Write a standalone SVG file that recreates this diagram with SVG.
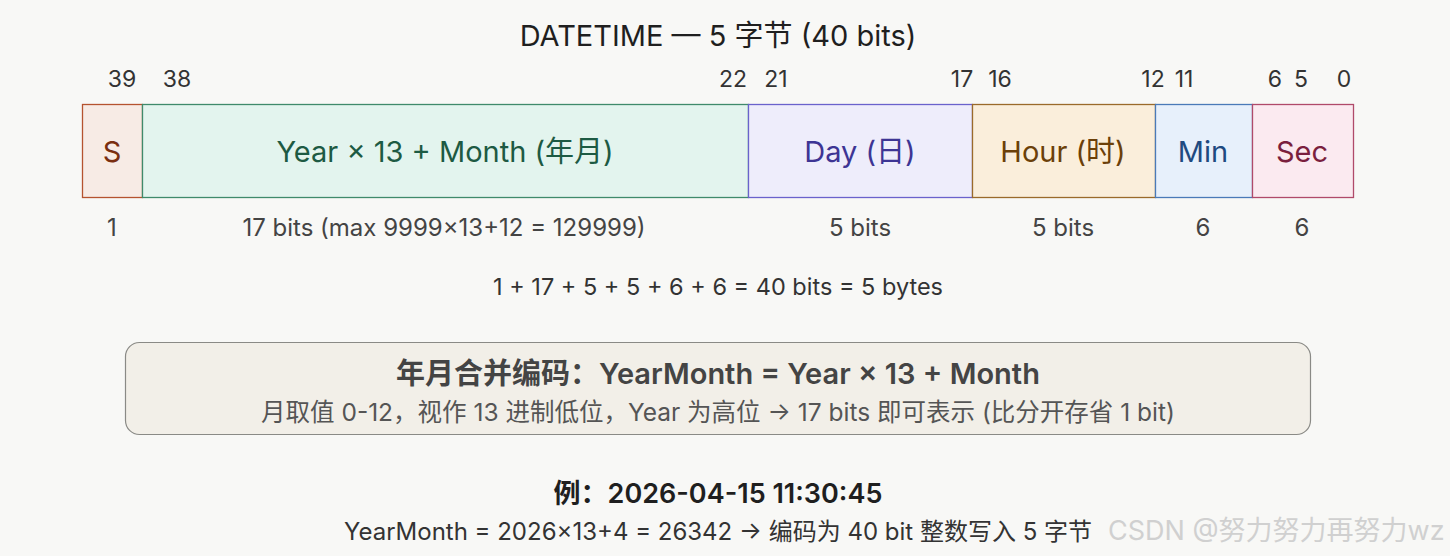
<svg xmlns="http://www.w3.org/2000/svg" width="1450" height="556" viewBox="0 0 1450 556">
<style>
text{font-family:Inter,"Noto Sans","Noto Sans CJK SC",sans-serif;text-anchor:middle}
.bit{font-size:23px;fill:#333}
.lbl{font-size:29px}
.cnt{font-size:24px;fill:#444}
.seg{stroke-width:1.3}
</style>
<rect width="1450" height="556" fill="#f8f8f6"/>
<text x="718" y="46" font-size="29" fill="#1f1f1f">DATETIME — 5 字节 (40 bits)</text>
<g id="bits" class="bit">
<text x="122" y="87">39</text><text x="177" y="87">38</text>
<text x="733" y="87">22</text><text x="776" y="87">21</text>
<text x="962" y="87">17</text><text x="1000" y="87">16</text>
<text x="1153" y="87">12</text><text x="1184" y="87">11</text>
<text x="1275" y="87">6</text><text x="1301" y="87">5</text><text x="1344" y="87">0</text>
</g>
<g id="seg-s"><rect class="seg" x="82.5" y="104.5" width="60" height="93" fill="#f7ebe5" stroke="#b5532f"/><text class="lbl" x="112" y="162" fill="#7a2e10">S</text></g>
<g id="seg-ym"><rect class="seg" x="142.5" y="104.5" width="606" height="93" fill="#e3f4ee" stroke="#3f8a6b"/><text class="lbl" x="445" y="162" fill="#1d5a43">Year × 13 + Month (年月)</text></g>
<g id="seg-day"><rect class="seg" x="748.5" y="104.5" width="224" height="93" fill="#eeedfb" stroke="#6a62cc"/><text class="lbl" x="860" y="162" fill="#3d3594">Day (日)</text></g>
<g id="seg-hour"><rect class="seg" x="972.5" y="104.5" width="183" height="93" fill="#faeedb" stroke="#9a6a2a"/><text class="lbl" x="1063" y="162" fill="#6b4009">Hour (时)</text></g>
<g id="seg-min"><rect class="seg" x="1155.5" y="104.5" width="97" height="93" fill="#e7f0fb" stroke="#4a7ab8"/><text class="lbl" x="1203" y="162" fill="#1f4a80">Min</text></g>
<g id="seg-sec"><rect class="seg" x="1252.5" y="104.5" width="101" height="93" fill="#fbeaf0" stroke="#b04a6a"/><text class="lbl" x="1302" y="162" fill="#7a1f3e">Sec</text></g>
<g id="counts" class="cnt">
<text x="112" y="236">1</text>
<text x="444" y="236">17 bits (max 9999×13+12 = 129999)</text>
<text x="860" y="236">5 bits</text>
<text x="1063" y="236">5 bits</text>
<text x="1203" y="236">6</text>
<text x="1302" y="236">6</text>
</g>
<text x="718" y="295" font-size="23.5" fill="#333">1 + 17 + 5 + 5 + 6 + 6 = 40 bits = 5 bytes</text>
<g id="note">
<rect x="125.5" y="342.5" width="1185" height="92" rx="14" fill="#f2efe8" stroke="#8a8a86" stroke-width="1.2"/>
<text x="718" y="384" font-size="29" font-weight="600" fill="#444">年月合并编码：YearMonth = Year × 13 + Month</text>
<text x="718" y="421" font-size="24.5" fill="#555">月取值 0-12，视作 13 进制低位，Year 为高位 → 17 bits 即可表示 (比分开存省 1 bit)</text>
</g>
<g id="example">
<text x="718" y="503" font-size="27" font-weight="600" fill="#1f1f1f">例：2026-04-15 11:30:45</text>
<text x="718" y="540" font-size="24" fill="#333">YearMonth = 2026×13+4 = 26342 → 编码为 40 bit 整数写入 5 字节</text>
</g>
<text x="1108" y="540" font-size="27" fill="#d0d0d0" style="text-anchor:start">CSDN @努力努力再努力wz</text>
</svg>
